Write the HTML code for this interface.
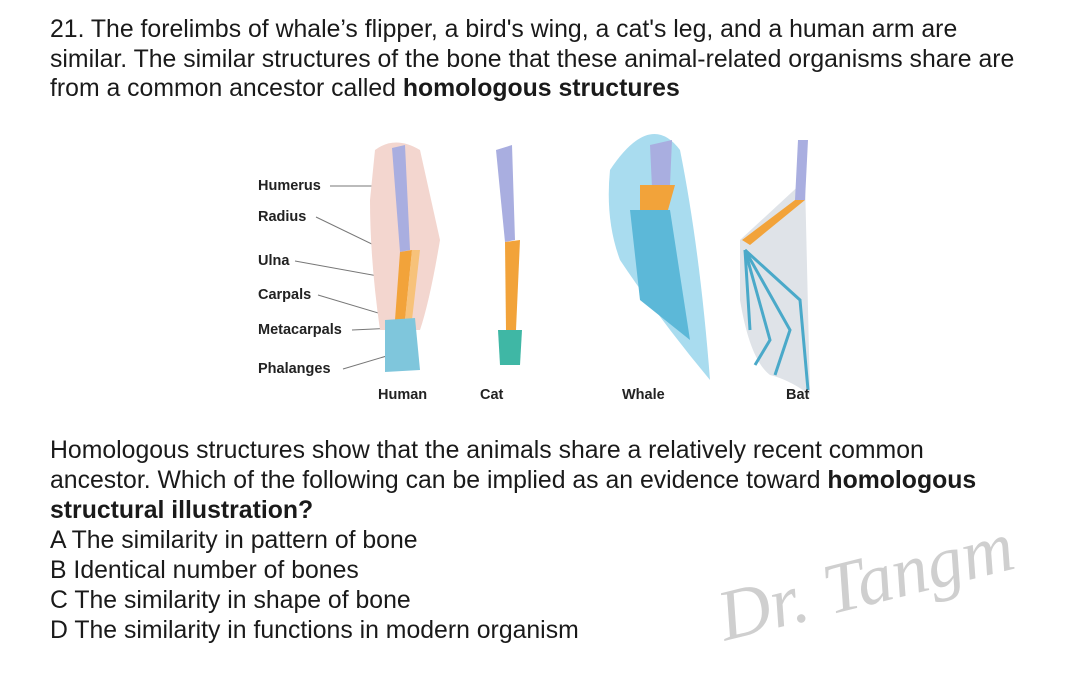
<!DOCTYPE html>
<html><head><meta charset="utf-8"><style>
body{margin:0;width:1083px;height:687px;background:#fff;overflow:hidden;position:relative;font-family:"Liberation Sans",sans-serif;color:#1a1a1a}
.t{position:absolute;left:50px;font-size:24.8px;line-height:30px;white-space:nowrap}
.l{position:absolute;font-size:14.5px;font-weight:bold;color:#222}
</style></head><body>
<div class="t" style="top:15px">21. The forelimbs of whale’s flipper, a bird's wing, a cat's leg, and a human arm are</div>
<div class="t" style="top:45px">similar. The similar structures of the bone that these animal-related organisms share are</div>
<div class="t" style="top:74px">from a common ancestor called <b>homologous structures</b></div>

<svg style="position:absolute;left:0;top:0" width="1083" height="687">
<g stroke="#777" stroke-width="1" fill="none">
<line x1="330" y1="186" x2="400" y2="186"/>
<line x1="316" y1="217" x2="405" y2="260"/>
<line x1="295" y1="261" x2="400" y2="280"/>
<line x1="318" y1="295" x2="395" y2="318"/>
<line x1="352" y1="330" x2="395" y2="328"/>
<line x1="343" y1="369" x2="390" y2="355"/>
</g>
<path d="M375,150 Q395,135 420,150 L440,240 Q430,300 420,330 L380,330 Q370,260 370,200 Z" fill="#f3d6cf"/>
<path d="M392,148 L405,145 L410,250 L400,252 Z" fill="#a9aee0"/>
<path d="M400,252 L412,250 L405,320 L395,320 Z" fill="#f2a33a"/>
<path d="M412,250 L420,250 L412,320 L405,320 Z" fill="#f7c27a"/>
<path d="M385,320 L415,318 L420,370 L385,372 Z" fill="#7fc6dc"/>
<path d="M496,150 L512,145 L515,240 L505,242 Z" fill="#a9aee0"/>
<path d="M505,242 L520,240 L516,330 L506,330 Z" fill="#f2a33a"/>
<path d="M498,330 L522,330 L520,365 L500,365 Z" fill="#3fb7a5"/>
<path d="M610,170 Q650,110 680,150 Q700,250 710,380 Q660,320 620,260 Q605,220 610,170 Z" fill="#a9dcef"/>
<path d="M650,145 L672,140 L670,185 L652,188 Z" fill="#a9aee0"/>
<path d="M640,185 L675,185 L668,210 L640,210 Z" fill="#f2a33a"/>
<path d="M630,210 L670,210 L690,340 L640,300 Z" fill="#5cb8d8"/>
<path d="M740,240 L805,180 L810,395 Q790,380 770,375 Q750,360 740,300 Z" fill="#dfe3e8"/>
<path d="M798,140 L808,140 L805,200 L795,200 Z" fill="#a9aee0"/>
<path d="M795,200 L805,200 L750,245 L742,240 Z" fill="#f2a33a"/>
<g stroke="#4aa9c9" stroke-width="3" fill="none">
<path d="M745,250 L800,300 L808,390"/><path d="M745,250 L790,330 L775,375"/><path d="M745,250 L770,340 L755,365"/><path d="M745,250 L750,330"/>
</g>
</svg>
<div class="l" style="left:258px;top:178px">Humerus</div>
<div class="l" style="left:258px;top:209px">Radius</div>
<div class="l" style="left:258px;top:253px">Ulna</div>
<div class="l" style="left:258px;top:287px">Carpals</div>
<div class="l" style="left:258px;top:322px">Metacarpals</div>
<div class="l" style="left:258px;top:361px">Phalanges</div>
<div class="l" style="left:378px;top:387px">Human</div>
<div class="l" style="left:480px;top:387px">Cat</div>
<div class="l" style="left:622px;top:387px">Whale</div>
<div class="l" style="left:786px;top:387px">Bat</div>

<div class="t" style="top:436px">Homologous structures show that the animals share a relatively recent common</div>
<div class="t" style="top:466px">ancestor. Which of the following can be implied as an evidence toward <b>homologous</b></div>
<div class="t" style="top:496px"><b>structural illustration?</b></div>
<div class="t" style="top:526px">A The similarity in pattern of bone</div>
<div class="t" style="top:556px">B Identical number of bones</div>
<div class="t" style="top:586px">C The similarity in shape of bone</div>
<div class="t" style="top:616px">D The similarity in functions in modern organism</div>
<div style="position:absolute;left:715px;top:545px;font-family:'Liberation Serif',serif;font-style:italic;font-size:70px;color:#d0d0d0;transform:rotate(-70deg) translate(0,0);transform-origin:0 0;white-space:nowrap;display:none">x</div>
<div style="position:absolute;left:715px;top:540px;font-family:'Liberation Serif',serif;font-style:italic;font-size:72px;color:#cfcfcf;transform:rotate(-14deg);white-space:nowrap">Dr. Tangm</div>
</body></html>
